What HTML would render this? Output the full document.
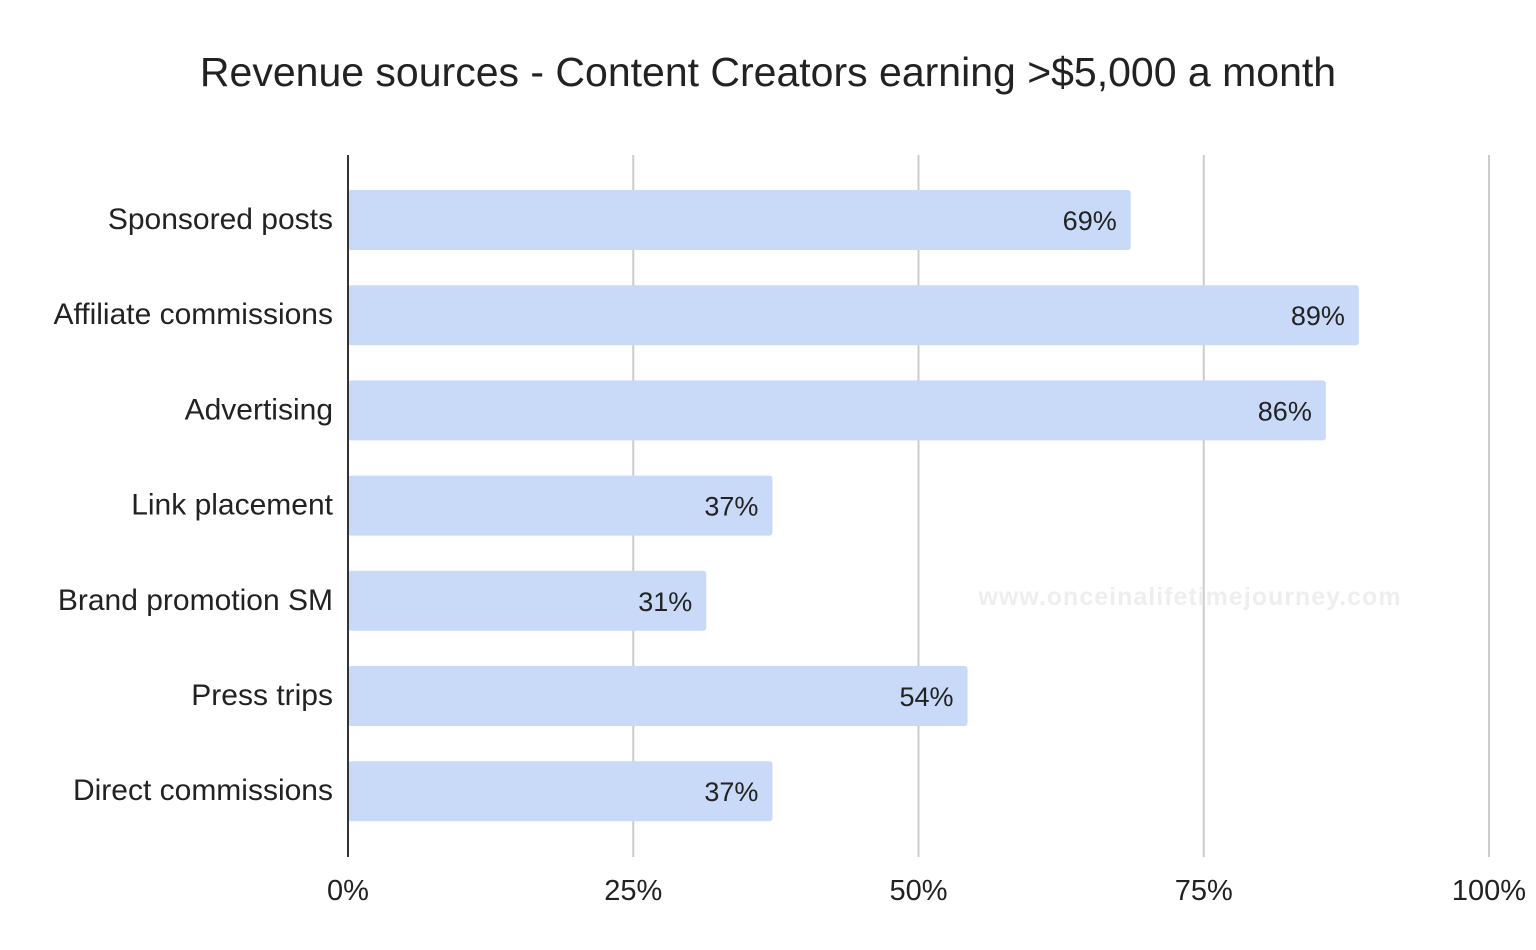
<!DOCTYPE html>
<html><head><meta charset="utf-8"><style>
html,body{margin:0;padding:0;background:#fff;}
svg{display:block;font-family:"Liberation Sans",Arial,sans-serif;}
</style></head><body>
<svg id="chart" width="1536" height="950">
<text x="768" y="86" text-anchor="middle" font-size="41" fill="#222">Revenue sources - Content Creators earning &gt;$5,000 a month</text>
<g id="grid"></g><g id="bars"></g><g id="labels"></g>
<text x="1190" y="605" text-anchor="middle" font-size="25" font-weight="bold" fill="#eeeeee" letter-spacing="1">www.onceinalifetimejourney.com</text>
</svg>
<script>
const categories = ["Sponsored posts","Affiliate commissions","Advertising","Link placement","Brand promotion SM","Press trips","Direct commissions"];
const values = [68.6,88.6,85.7,37.2,31.4,54.3,37.2];
const ticks = [0,25,50,75,100];
const tickLabels = ["0%","25%","50%","75%","100%"];
const NS="http://www.w3.org/2000/svg";
const x0=348,x1=1489,top0=190,step=95.2,bh=60;
const xs=v=>x0+(x1-x0)*v/100;
const yc=i=>top0+i*step;
function mk(t,a,p,txt){const e=document.createElementNS(NS,t);for(const k in a)e.setAttribute(k,a[k]);if(txt!=null)e.textContent=txt;p.appendChild(e);return e;}
const g=document.getElementById('grid'),b=document.getElementById('bars'),l=document.getElementById('labels');
ticks.forEach((t,i)=>{
  if(i>0){const ln=mk('line',{x1:xs(t),x2:xs(t),y1:155,y2:857,stroke:'#cccccc','stroke-width':2},g);
  
  }
  const tx=mk('text',{x:xs(t),y:900,'text-anchor':'middle','font-size':29,fill:'#222'},l,tickLabels[i]);
  
  
});
categories.forEach((c,i)=>{
  const y=yc(i);
  const r=mk('rect',{x:x0,y:y,width:xs(values[i])-x0,height:bh,rx:3,fill:'#c9daf8'},b);
  
  
  const vt=mk('text',{x:xs(values[i])-14,y:y+bh/2+10,'text-anchor':'end','font-size':27,fill:'#222'},l,Math.round(values[i])+'%');
  
  
  const ct=mk('text',{x:333,y:y+bh/2+9,'text-anchor':'end','font-size':30,fill:'#222'},l,c);
  
  
});
const ax=mk('line',{x1:x0,x2:x0,y1:155,y2:857,stroke:'#333','stroke-width':2},l);


</script>
</body></html>
